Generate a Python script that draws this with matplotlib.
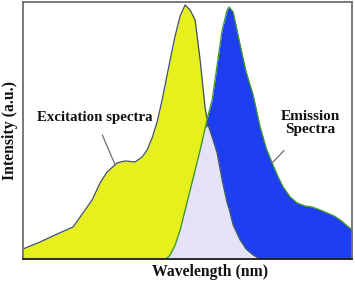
import matplotlib
matplotlib.use('Agg')
import matplotlib.pyplot as plt
import numpy as np

# shared wavelength grid (nm, arbitrary) and intensities (a.u.)
wavelength = [300, 317, 332, 350, 362, 369, 377, 384, 394, 402, 412, 419, 424, 429,
              434, 439, 443, 447, 452, 457, 462, 467, 472, 477, 482, 485, 489, 494,
              499, 504, 506, 510, 517, 523, 530, 537, 543, 549, 555, 560, 567, 574,
              582, 589, 597, 604, 611, 617, 623, 629]
excitation = [10, 17, 24, 32, 49, 59, 76, 87, 96, 98, 97, 102, 109, 121,
              137, 159, 179, 199, 223, 243, 254, 249, 239, 199, 151, 134, 122, 106,
              79, 56, 50, 34, 19, 10, 4, 0, 0, 0, 0, 0, 0, 0,
              0, 0, 0, 0, 0, 0, 0, 0]
emission = [0, 0, 0, 0, 0, 0, 0, 0, 0, 0, 0, 0, 0, 0,
            0, 0, 0, 4, 14, 29, 49, 69, 89, 109, 131, 144, 159, 194,
            229, 249, 252, 247, 214, 187, 164, 132, 111, 96, 82, 72, 62, 56,
            53, 52, 49, 46, 43, 39, 34, 29]

x = np.array(wavelength)
exc = np.array(excitation)
emi = np.array(emission)

fig = plt.figure(figsize=(3.55, 2.83), dpi=100)
ax = fig.add_axes([0.065, 0.085, 0.927, 0.908])

ax.fill_between(x, exc, color='#e6f01c', lw=0)
ax.fill_between(x, emi, color='#1e3ef2', lw=0)
ax.fill_between(x, np.minimum(exc, emi), color='#e3e3f5', lw=0)
ax.plot(x, exc, color='#3d5068', lw=0.9)
ax.plot(x, emi, color='#3f9a2a', lw=0.9)

ax.set_xlim(300, 629)
ax.set_ylim(0, 257)
ax.set_xticks([])
ax.set_yticks([])
for s in ax.spines.values():
    s.set_color('#707070')
    s.set_linewidth(1.3)
ax.spines['bottom'].set_color('#202020')

font = dict(family='Liberation Serif', weight='bold', color='#111111')
ax.annotate('Excitation spectra', xy=(392, 94), xytext=(372, 141),
            ha='center', va='center', fontsize=10.7, **font,
            arrowprops=dict(arrowstyle='-', color='#707070', lw=0.9,
                            shrinkA=6, shrinkB=0))
ax.annotate('Emission\nSpectra', xy=(549, 96), xytext=(587, 136),
            ha='center', va='center', fontsize=11, linespacing=0.92, **font,
            arrowprops=dict(arrowstyle='-', color='#707070', lw=0.9,
                            shrinkA=12, shrinkB=0))

ax.set_xlabel('Wavelength (nm)', fontsize=11.3, **font)
ax.xaxis.set_label_coords(0.568, -0.02)
ax.set_ylabel('Intensity (a.u.)', fontsize=11.3, labelpad=4, **font)

fig.savefig('out.png', dpi=100)
